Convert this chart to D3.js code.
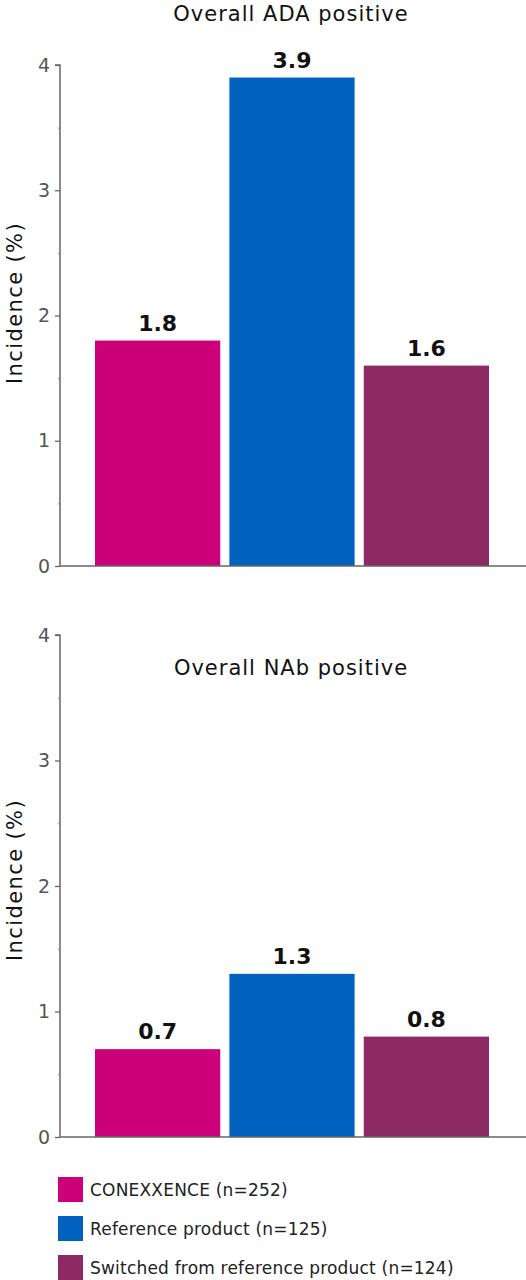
<!DOCTYPE html>
<html><head><meta charset="utf-8">
<script src="https://cdn.jsdelivr.net/npm/d3@7"></script>
<style>
html,body{margin:0;padding:0;background:#fff;}
svg{display:block;font-family:"DejaVu Sans",sans-serif;}
</style></head>
<body><svg id="chart" width="526" height="1280"></svg>
<script>
const categories = ["CONEXXENCE (n=252)", "Reference product (n=125)", "Switched from reference product (n=124)"];
const colors = ["#CC007A", "#0062BE", "#8D2A66"];
const adaValues = [1.8, 3.9, 1.6];
const nabValues = [0.7, 1.3, 0.8];
const panelTitles = ["Overall ADA positive", "Overall NAb positive"];
const yTicks = [0, 1, 2, 3, 4];
const yMinorTicks = [0.5, 1.5, 2.5, 3.5];
const yLabel = "Incidence (%)";

const svg = d3.select("#chart");
const panels = [
  {title: panelTitles[0], values: adaValues, top: 65, bottom: 566, titleY: 21, labelY: 303},
  {title: panelTitles[1], values: nabValues, top: 635, bottom: 1137, titleY: 675, labelY: 880}
];
const axisX = 60;
const x = d3.scaleBand().domain(categories).range([95, 489]).paddingInner(0.068).paddingOuter(0);

panels.forEach(p => {
  const y = d3.scaleLinear().domain([0, 4]).range([p.bottom, p.top]);
  const g = svg.append("g");
  // bars
  g.selectAll("rect.bar").data(p.values).join("rect")
    .attr("x", (d, i) => x(categories[i]))
    .attr("width", x.bandwidth())
    .attr("y", d => y(d))
    .attr("height", d => y(0) - y(d))
    .attr("fill", (d, i) => colors[i]);
  // value labels
  g.selectAll("text.val").data(p.values).join("text")
    .attr("x", (d, i) => x(categories[i]) + x.bandwidth() / 2)
    .attr("y", d => y(d) - 10)
    .attr("text-anchor", "middle")
    .attr("font-size", 22).attr("font-weight", 700).attr("fill", "#111")
    .text(d => d.toFixed(1));
  // y axis
  const ax = g.append("g").attr("transform", `translate(${axisX},0)`)
    .call(d3.axisLeft(y).tickValues(yTicks).tickFormat(d3.format("d")).tickSize(5).tickPadding(5));
  ax.select(".domain").attr("stroke", "#666").attr("stroke-width", 1.5).attr("d", `M-5,${y(4)}H0V${y(0)}`);
  ax.selectAll(".tick line").attr("stroke", "#666").attr("stroke-width", 1.3);
  ax.selectAll(".tick text").attr("fill", "#555").attr("font-size", 19).attr("font-family", "DejaVu Sans, sans-serif");
  const axm = g.append("g").attr("transform", `translate(${axisX},0)`)
    .call(d3.axisLeft(y).tickValues(yMinorTicks).tickFormat("").tickSize(2));
  axm.select(".domain").remove();
  axm.selectAll(".tick line").attr("stroke", "#888").attr("stroke-width", 1);
  // baseline
  g.append("line").attr("x1", axisX).attr("x2", 526).attr("y1", y(0)).attr("y2", y(0))
    .attr("stroke", "#666").attr("stroke-width", 1.5);
  // title
  g.append("text").attr("x", 291).attr("y", p.titleY).attr("text-anchor", "middle")
    .attr("font-size", 21).attr("letter-spacing", 1).attr("fill", "#111").text(p.title);
  // y label
  g.append("text").attr("transform", `translate(22,${p.labelY}) rotate(-90)`)
    .attr("text-anchor", "middle").attr("font-size", 21).attr("letter-spacing", 1.4)
    .attr("fill", "#111").text(yLabel);
});

// legend
const leg = svg.append("g");
const legY = d3.scaleBand().domain(categories).range([1177, 1280]).paddingInner(14 / 39).paddingOuter(0);
categories.forEach((c, i) => {
  leg.append("rect").attr("x", 58).attr("y", legY(c)).attr("width", 25).attr("height", legY.bandwidth()).attr("fill", colors[i]);
  leg.append("text").attr("x", 90).attr("y", legY(c) + 19).attr("font-size", 17).attr("letter-spacing", 0.2)
    .attr("fill", "#222").text(c);
});
</script></body></html>
